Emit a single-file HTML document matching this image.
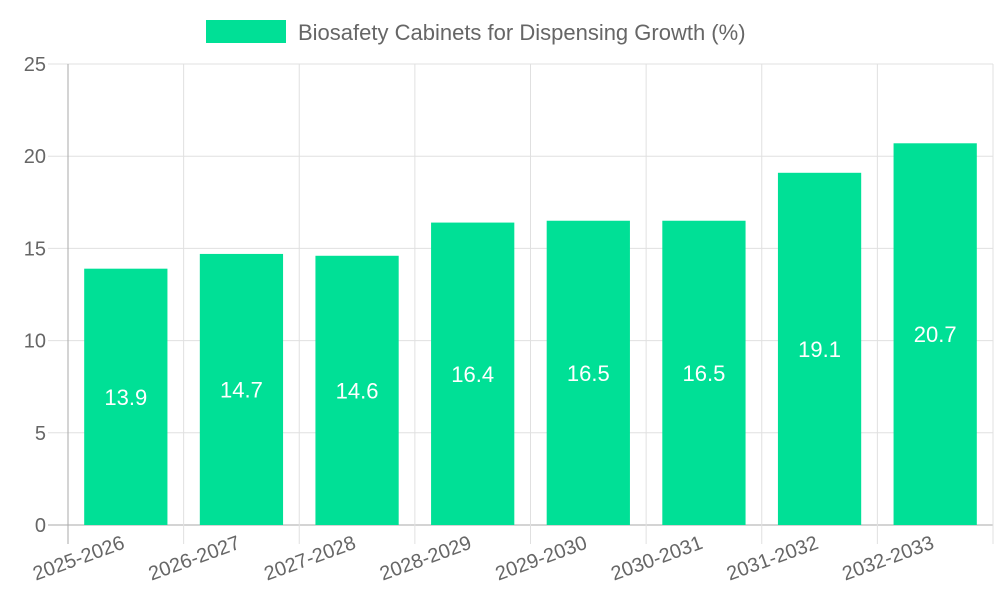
<!DOCTYPE html>
<html><head><meta charset="utf-8"><style>
html,body{margin:0;padding:0;background:#fff;}
svg{display:block;font-family:"Liberation Sans",sans-serif;}
</style></head><body>
<svg id="chart" width="1000" height="600">
<g id="grid"></g>
<g id="bars"></g>
<g id="axes"></g>
<g>
<rect x="206" y="20" width="80" height="23" fill="#00e096"/>
<text x="298" y="40" font-size="22" fill="#666">Biosafety Cabinets for Dispensing Growth (%)</text>
</g>
</svg>
<script>
const categories=["2025-2026","2026-2027","2027-2028","2028-2029","2029-2030","2030-2031","2031-2032","2032-2033"];
const values=[13.9,14.7,14.6,16.4,16.5,16.5,19.1,20.7];
const yTicks=[0,5,10,15,20,25];
const NS="http://www.w3.org/2000/svg";
const L=68,R=993,T=64,B=525,yMax=25;
const band=(R-L)/categories.length;
const y=v=>B-(v/yMax)*(B-T);
const x=i=>L+i*band;
function mk(tag,attrs,parent,txt){const e=document.createElementNS(NS,tag);for(const k in attrs)e.setAttribute(k,attrs[k]);if(txt!==undefined)e.textContent=txt;parent.appendChild(e);return e;}
const grid=document.getElementById('grid'),bars=document.getElementById('bars'),axes=document.getElementById('axes');
yTicks.forEach(t=>{
 const g=mk('line',{x1:48,x2:R,y1:y(t),y2:y(t),stroke:t===0?'#aaa':'#e0e0e0','stroke-width':1},grid);
 
 
 const lb=mk('text',{x:46,y:y(t)+7,'text-anchor':'end','font-size':20,fill:'#666'},axes,String(t));
 
 
});
for(let i=0;i<=categories.length;i++){
 const g=mk('line',{x1:x(i),x2:x(i),y1:T,y2:B+19,stroke:i===0?'#aaa':'#e0e0e0','stroke-width':1},grid);
 
 
}
categories.forEach((c,i)=>{
 const bw=band*0.72,bx=x(i)+(band-bw)/2,v=values[i];
 const r=mk('rect',{x:bx,y:y(v),width:bw,height:B-y(v),fill:'#00e096'},bars);
 
 
 const vl=mk('text',{x:bx+bw/2,y:(y(v)+B)/2+8,'text-anchor':'middle','font-size':22,fill:'#fff'},bars,v.toFixed(1));
 
 
 const cx=x(i)+band/2;
 const xl=mk('text',{x:cx,y:548,'text-anchor':'end','font-size':20,fill:'#666',transform:`rotate(-20 ${cx} 548)`},axes,c);
 
 
});
</script>
</body></html>
